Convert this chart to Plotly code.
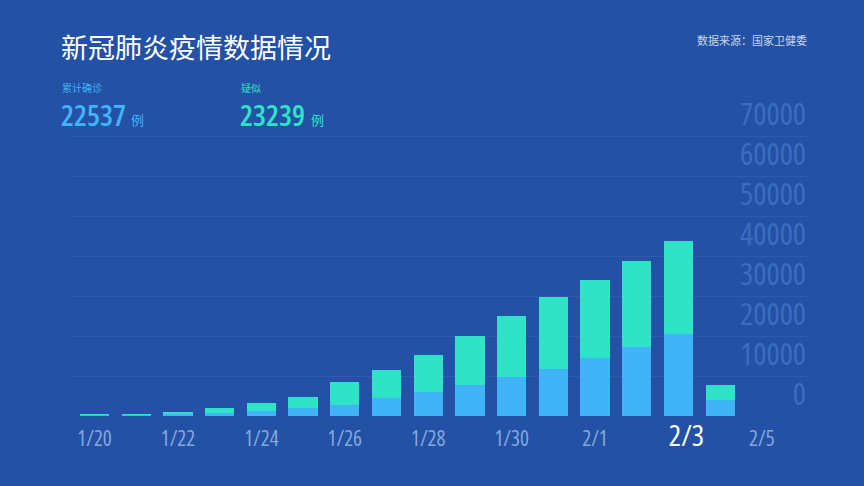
import plotly.graph_objects as go

dates = ["1/20", "1/21", "1/22", "1/23", "1/24", "1/25", "1/26", "1/27", "1/28",
         "1/29", "1/30", "1/31", "2/1", "2/2", "2/3", "2/4", "2/5"]
confirmed = [291, 440, 571, 830, 1287, 1975, 2744, 4515, 5974,
             7711, 9692, 11791, 14380, 17205, 20438, 4000, None]
suspected = [54, 37, 393, 1072, 1965, 2684, 5794, 6973, 9239,
             12167, 15238, 17988, 19544, 21558, 23214, 3700, None]
x_ticks = ["1/20", "1/22", "1/24", "1/26", "1/28", "1/30", "2/1", "2/3", "2/5"]
highlight = "2/3"
y_ticks = [0, 10000, 20000, 30000, 40000, 50000, 60000, 70000]
total_confirmed = "22537"
total_suspected = "23239"

BG = "#2251a5"
BLUE = "#41b4f8"
TEAL = "#2fe3c6"
NUMFONT = "Open Sans"
CJK = "Noto Sans CJK SC, sans-serif"

W, H = 864, 486
L, R, T, B = 72, 809, 80, 416
X_RANGE = [-0.54, 17.13]
Y_RANGE = [0, 84000]


def px(x):
    return (x - L) / (R - L)


def py(y):
    return (B - y) / (B - T)


idx = list(range(len(dates)))
tick_idx = [dates.index(t) for t in x_ticks]

fig = go.Figure()
fig.add_bar(x=idx, y=confirmed, marker=dict(color=BLUE, line=dict(width=0)), name="确诊")
fig.add_bar(x=idx, y=suspected, marker=dict(color=TEAL, line=dict(width=0)), name="疑似")
# empty helper trace so the label-only y axis (y2) has its own subplot
fig.add_scatter(x=[], y=[], xaxis="x2", yaxis="y2", hoverinfo="skip")

ticktext = [
    f'<span style="font-size:29px;color:#ffffff">&nbsp;&nbsp;&nbsp;{t}</span>' if t == highlight else t
    for t in x_ticks
]


def ann(text, x, y, size, color, family, xanchor="left", yanchor="middle", weight="normal"):
    return dict(text=text, x=px(x), y=py(y), xref="paper", yref="paper",
                xanchor=xanchor, yanchor=yanchor, align=xanchor, showarrow=False,
                borderpad=0,
                font=dict(family=family, size=size, color=color, weight=weight))


fig.update_layout(
    width=W, height=H,
    barmode="stack", bargap=0.3,
    paper_bgcolor=BG, plot_bgcolor=BG,
    showlegend=False,
    margin=dict(l=L, r=W - R, t=T, b=H - B, pad=0),
    xaxis=dict(
        range=X_RANGE,
        tickmode="array", tickvals=tick_idx, ticktext=ticktext,
        showgrid=False, zeroline=False, showline=False, ticks="",
        tickfont=dict(family=NUMFONT, size=21, color="#86a7dc"),
        ticklabelstandoff=8,
    ),
    yaxis=dict(
        range=Y_RANGE, tickmode="array", tickvals=y_ticks,
        showticklabels=False,
        showgrid=True, gridcolor="rgba(255,255,255,0.06)", gridwidth=1,
        zeroline=False, showline=False, ticks="",
    ),
    xaxis2=dict(
        overlaying="x", anchor="y2", range=X_RANGE,
        showticklabels=False, showgrid=False, zeroline=False, showline=False, ticks="",
    ),
    yaxis2=dict(
        overlaying="y", anchor="x2", side="right", range=Y_RANGE,
        tickmode="array", tickvals=y_ticks, ticktext=[str(v) for v in y_ticks],
        ticklabelposition="inside top",
        tickfont=dict(family=NUMFONT, size=31, color="#3c6dc1"),
        showgrid=False, zeroline=False, showline=False, ticks="",
    ),
    annotations=[
        ann("新冠肺炎疫情数据情况", 60, 47, 27, "#ffffff", CJK),
        ann("数据来源：国家卫健委", 808, 40, 11, "#c9d5ec", CJK, xanchor="right"),
        ann("累计确诊", 61, 87, 10, BLUE, CJK),
        ann(total_confirmed, 60, 115, 29, BLUE, NUMFONT, weight=600),
        ann("例", 130, 119, 13, BLUE, CJK),
        ann("疑似", 240, 87, 10, TEAL, CJK),
        ann(total_suspected, 239, 115, 29, TEAL, NUMFONT, weight=600),
        ann("例", 310, 119, 13, TEAL, CJK),
    ],
)

post = """
document.body.style.margin = '0';
document.body.style.background = '#2251a5';
var st = document.createElement('style');
st.textContent = '.xtick text, .ytick text, .y2tick text { font-stretch: 75% !important; }' +
  ' .annotation-text { font-stretch: 75% !important; }';
document.head.appendChild(st);
"""

fig.write_html("out.html", post_script=post, config={"displayModeBar": False})
